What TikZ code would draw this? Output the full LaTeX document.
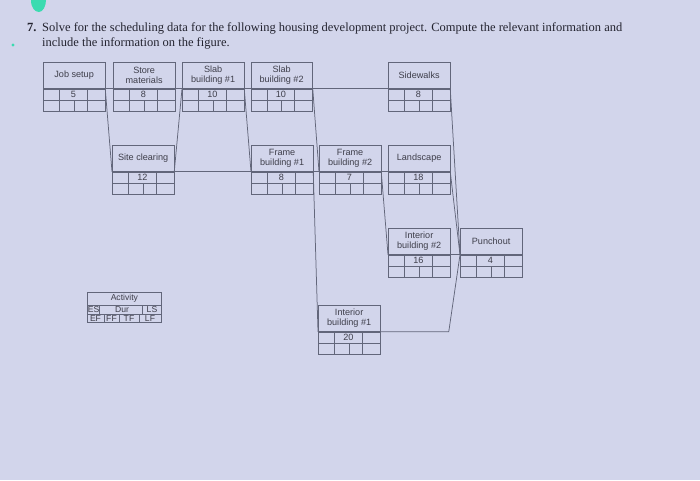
\documentclass[tikz,border=0pt]{standalone}
\usepackage{fontspec}
\setmainfont{Liberation Serif}
\newfontfamily\dsans{Liberation Sans}
\usetikzlibrary{calc}
\definecolor{bg}{HTML}{D2D5EB}
\definecolor{ln}{HTML}{62667A}
\definecolor{tx}{HTML}{3E3E4A}
\definecolor{ttl}{HTML}{23232F}
\definecolor{mint}{HTML}{3ADBB0}
\tikzset{
  labbox/.style={draw=ln, line width=0.75pt, minimum width=61.5pt, minimum height=26pt,
    inner sep=0pt, anchor=north west, font=\dsans\fontsize{9.1}{10}\selectfont, text=tx, align=center},
  rowbox/.style={draw=ln, line width=0.75pt, minimum width=61.5pt, minimum height=22pt,
    inner sep=0pt, anchor=north},
  cellline/.style={draw=ln, line width=0.75pt},
  linkline/.style={draw=ln, line width=0.75pt},
  durtxt/.style={font=\dsans\fontsize{9.1}{10}\selectfont, text=tx, inner sep=0pt},
  legtxt/.style={font=\dsans\fontsize{8.6}{9}\selectfont, text=tx, inner sep=0pt},
  titletxt/.style={anchor=base west, inner sep=0pt, text=ttl, font=\fontsize{12.5}{15}\selectfont},
}
\newcommand{\actnode}[5]{%
  \node[labbox] (#1) at (#2,#3) {#4};
  \node[rowbox] (#1r) at (#1.south) {};
  \draw[cellline] (#1r.west) -- (#1r.east);
  \draw[cellline] ($(#1r.north west)+(16.6,0)$) -- ($(#1r.south west)+(16.6,0)$);
  \draw[cellline] ($(#1r.north west)+(44.3,0)$) -- ($(#1r.south west)+(44.3,0)$);
  \draw[cellline] (#1r.center) -- (#1r.south);
  \node[durtxt] (#1d) at ($(#1r.north west)+(30.4,5.6)$) {#5};
}
\begin{document}
\begin{tikzpicture}[x=1pt,y=-1pt]
\fill[bg] (0,0) rectangle (700,480);
\useasboundingbox (0,0) rectangle (700,480);
% stray marks
\fill[mint] (31,0) .. controls (31,8) and (35,12) .. (39,12) .. controls (43,12) and (46,6) .. (46,0) -- cycle;
\fill[mint] (13,45) circle (1.6);
% title
\node[titletxt, font=\bfseries\fontsize{12.5}{15}\selectfont] (num) at (27,31) {7.};
\node[titletxt] (t1) at (42,31) {Solve for the scheduling data for the following housing development project. Compute the relevant information and};
\node[titletxt] (t2) at (42,46.5) {include the information on the figure.};
% activities
\actnode{js}{43}{62}{Job setup}{5}
\actnode{sm}{113}{62}{Store\\materials}{8}
\actnode{sb1}{182}{62}{Slab\\building \#1}{10}
\actnode{sb2}{250.5}{62}{Slab\\building \#2}{10}
\actnode{sw}{388}{62}{Sidewalks}{8}
\actnode{sc}{112}{145}{Site clearing}{12}
\actnode{fb1}{251}{145}{Frame\\building \#1}{8}
\actnode{fb2}{319}{145}{Frame\\building \#2}{7}
\actnode{ls}{388}{145}{Landscape}{18}
\actnode{ib2}{388}{228}{Interior\\building \#2}{16}
\actnode{po}{460}{228}{Punchout}{4}
\actnode{ib1}{318}{305}{Interior\\building \#1}{20}
% connectors
\draw[linkline] (js.south east) -- (sm.south west);
\draw[linkline] (sm.south east) -- (sb1.south west);
\draw[linkline] (sb1.south east) -- (sb2.south west);
\draw[linkline] (sb2.south east) -- (sw.south west);
\draw[linkline] (js.south east) -- (sc.south west);
\draw[linkline] (sc.south east) -- (sb1.south west);
\draw[linkline] (sc.south east) -- (fb1.south west);
\draw[linkline] (sb1.south east) -- (fb1.south west);
\draw[linkline] (fb1.south east) -- (fb2.south west);
\draw[linkline] (sb2.south east) -- (fb2.south west);
\draw[linkline] (fb2.south east) -- (ls.south west);
\draw[linkline] (fb2.south east) -- (ib2.south west);
\draw[linkline] (fb1.south east) -- (ib1.south west);
\draw[linkline] (sw.south east) -- (po.south west);
\draw[linkline] (ls.south east) -- (po.south west);
\draw[linkline] (ib2.south east) -- (po.south west);
\draw[linkline] (ib1.south east) -- ++(68.5,0) -- (po.south west);
% legend
\node[draw=ln, line width=0.75pt, minimum width=74pt, minimum height=12.5pt, inner sep=0pt,
  anchor=north west, legtxt] (leg) at (87,292) {Activity};
\node[draw=ln, line width=0.75pt, minimum width=74pt, minimum height=17pt, inner sep=0pt,
  anchor=north] (legr) at (leg.south) {};
\draw[cellline] (legr.west) -- (legr.east);
\draw[cellline] ($(legr.north west)+(12,0)$) -- ($(legr.west)+(12,0)$);
\draw[cellline] ($(legr.north west)+(55,0)$) -- ($(legr.west)+(55,0)$);
\draw[cellline] ($(legr.west)+(17,0)$) -- ($(legr.south west)+(17,0)$);
\draw[cellline] ($(legr.west)+(32,0)$) -- ($(legr.south west)+(32,0)$);
\draw[cellline] ($(legr.west)+(52,0)$) -- ($(legr.south west)+(52,0)$);
\node[legtxt] (les) at ($(legr.north west)+(6.5,4.4)$) {ES};
\node[legtxt] (ldur) at ($(legr.north west)+(35,4.4)$) {Dur};
\node[legtxt] (lls) at ($(legr.north west)+(65,4.4)$) {LS};
\node[legtxt] (lef) at ($(legr.north west)+(8.5,12.8)$) {EF};
\node[legtxt] (lff) at ($(legr.north west)+(24.5,12.8)$) {FF};
\node[legtxt] (ltf) at ($(legr.north west)+(42,12.8)$) {TF};
\node[legtxt] (llf) at ($(legr.north west)+(63,12.8)$) {LF};
\end{tikzpicture}
\end{document}
